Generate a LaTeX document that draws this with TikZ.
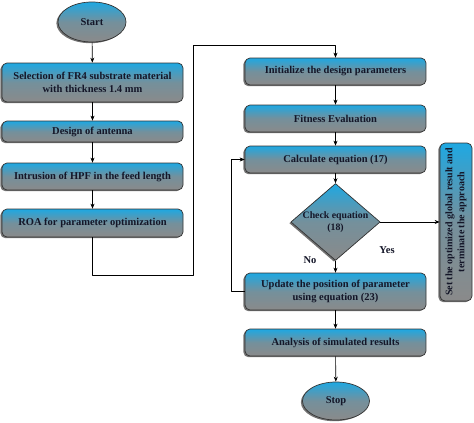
\documentclass[tikz,border=0pt]{standalone}
\usepackage{fontspec}
\setmainfont{Liberation Serif}
\usetikzlibrary{shapes.geometric,shadows,arrows.meta}
\definecolor{skyb}{RGB}{30,168,226}
\definecolor{boxg}{RGB}{138,138,138}
\definecolor{txtc}{RGB}{20,22,40}
\tikzset{
  blk/.style={draw=black!80,line width=0.7pt,rounded corners=5pt,top color=skyb,bottom color=boxg,middle color=boxg!80!skyb,
    drop shadow={shadow xshift=-1.6pt,shadow yshift=-1.2pt,fill=black!55,opacity=1},
    minimum width=181pt,inner sep=1pt,align=center,text=txtc,font=\bfseries\fontsize{10.5}{12.5}\selectfont},
  term/.style={blk,ellipse,rounded corners=0pt,minimum width=68pt,minimum height=40pt},
  chkd/.style={blk,diamond,rounded corners=0pt,minimum width=81pt,minimum height=70pt,aspect=1.16,inner sep=0pt},
  lbl/.style={text=txtc,font=\bfseries\fontsize{10.5}{12}\selectfont}
}
\begin{document}
\begin{tikzpicture}[x=1pt,y=1pt,line join=round,>={Stealth[length=5pt,width=4pt]},line width=0.6pt]
\useasboundingbox (0,0) rectangle (474,-423);
% left column
\node[term] (start) at (92,-22) {Start};
\node[blk,minimum height=39pt] (sel) at (92.5,-82.5) {Selection of FR4 substrate material\\with thickness 1.4 mm};
\node[blk,minimum height=21pt] (ant) at (92.5,-131.5) {Design of antenna};
\node[blk,minimum height=27pt] (hpf) at (92.5,-176.5) {Intrusion of HPF in the feed length};
\node[blk,minimum height=28pt] (roa) at (92.5,-223) {ROA for parameter optimization};
% right column
\node[blk,minimum height=27pt] (init) at (335.5,-71.5) {Initialize the design parameters};
\node[blk,minimum height=27pt] (fit) at (335.5,-118.5) {Fitness Evaluation};
\node[blk,minimum height=27pt] (calc) at (335.5,-159.5) {Calculate equation (17)};
\node[chkd,font=\bfseries\fontsize{9.8}{11.5}\selectfont] (chk) at (335.5,-222) {Check equation\\(18)};
\node[blk,minimum height=37pt] (upd) at (335.5,-291.5) {Update the position of parameter\\using equation (23)};
\node[blk,minimum height=27pt] (ana) at (335.5,-342.5) {Analysis of simulated results};
\node[term,minimum width=67pt,minimum height=38pt] (stop) at (336,-401) {Stop};
\node[blk,rotate=90,minimum width=158pt,minimum height=32pt,font=\bfseries\fontsize{10}{12}\selectfont] (res) at (456,-222) {Set the optimized global result and\\terminate the approach};
\node[lbl] (yes) at (387,-250) {Yes};
\node[lbl] (no) at (310,-260) {No};
\coordinate (k1) at (193,-275);
\coordinate (k2) at (193,-45);
% connectors
\draw[->] (start) -- (sel);
\draw[->] (sel) -- (ant);
\draw[->] (ant) -- (hpf);
\draw[->] (hpf) -- (roa);
\draw[->] (roa) |- (k1) -- (k2) -| (init);
\draw[->] (init) -- (fit);
\draw[->] (fit) -- (calc);
\draw[->] (calc) -- (chk);
\draw[->] (chk) -- (res.north);
\draw[->] (chk) -- (upd);
\draw[->] (upd.west) -- ++(-13,0) |- (calc.west);
\draw[->] (upd) -- (ana);
\draw[->] (ana) -- (stop);
\end{tikzpicture}
\end{document}
